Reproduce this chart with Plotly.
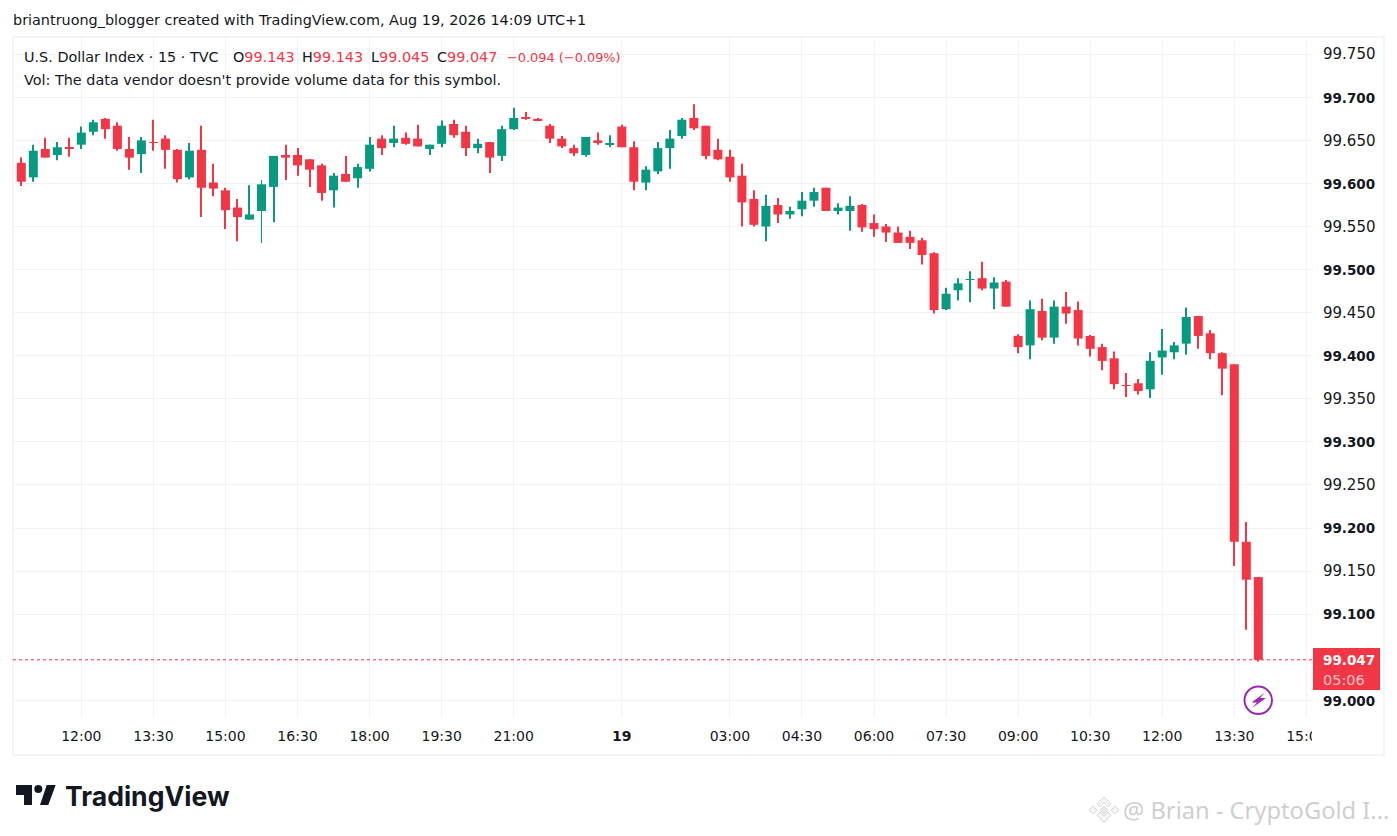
import plotly.graph_objects as go

# 15 min bars
opens = [99.624, 99.607, 99.640, 99.633, 99.642, 99.645, 99.660, 99.675, 99.667, 99.640,
         99.634, 99.648, 99.652, 99.639, 99.607, 99.639, 99.601, 99.592, 99.572, 99.558,
         99.568, 99.596, 99.633, 99.633, 99.628, 99.621, 99.592, 99.611, 99.606, 99.617,
         99.652, 99.647, 99.653, 99.652, 99.640, 99.646, 99.669, 99.660, 99.641, 99.648,
         99.632, 99.663, 99.676, 99.675, 99.667, 99.652, 99.641, 99.633, 99.650, 99.645,
         99.666, 99.642, 99.601, 99.614, 99.641, 99.655, 99.676, 99.667, 99.639, 99.631,
         99.609, 99.582, 99.550, 99.575, 99.564, 99.570, 99.580, 99.595, 99.568, 99.568,
         99.575, 99.554, 99.550, 99.543, 99.538, 99.534, 99.519, 99.454, 99.476, 99.488,
         99.490, 99.478, 99.486, 99.423, 99.412, 99.452, 99.421, 99.457, 99.453, 99.423,
         99.410, 99.397, 99.366, 99.368, 99.361, 99.398, 99.404, 99.414, 99.446, 99.426,
         99.403, 99.390, 99.184, 99.143]
highs = [99.630, 99.645, 99.653, 99.648, 99.653, 99.666, 99.674, 99.676, 99.671, 99.654,
         99.654, 99.674, 99.656, 99.640, 99.647, 99.667, 99.623, 99.595, 99.582, 99.598,
         99.604, 99.632, 99.645, 99.641, 99.628, 99.623, 99.612, 99.632, 99.623, 99.654,
         99.656, 99.667, 99.659, 99.668, 99.645, 99.673, 99.674, 99.667, 99.652, 99.648,
         99.667, 99.688, 99.683, 99.676, 99.669, 99.655, 99.645, 99.654, 99.659, 99.656,
         99.668, 99.649, 99.620, 99.648, 99.662, 99.676, 99.692, 99.667, 99.652, 99.639,
         99.623, 99.592, 99.587, 99.583, 99.573, 99.590, 99.595, 99.595, 99.577, 99.585,
         99.576, 99.564, 99.553, 99.550, 99.545, 99.537, 99.520, 99.479, 99.490, 99.498,
         99.509, 99.491, 99.488, 99.425, 99.464, 99.466, 99.464, 99.474, 99.463, 99.424,
         99.414, 99.405, 99.380, 99.373, 99.404, 99.431, 99.416, 99.456, 99.446, 99.430,
         99.404, 99.390, 99.207, 99.143]
lows = [99.597, 99.602, 99.630, 99.627, 99.631, 99.640, 99.656, 99.652, 99.638, 99.616,
        99.612, 99.638, 99.617, 99.601, 99.605, 99.561, 99.585, 99.547, 99.533, 99.558,
        99.531, 99.555, 99.604, 99.609, 99.596, 99.580, 99.572, 99.602, 99.595, 99.614,
        99.633, 99.642, 99.645, 99.643, 99.633, 99.642, 99.653, 99.632, 99.635, 99.612,
        99.626, 99.662, 99.674, 99.673, 99.647, 99.641, 99.632, 99.631, 99.645, 99.642,
        99.642, 99.592, 99.592, 99.611, 99.617, 99.652, 99.662, 99.628, 99.627, 99.602,
        99.550, 99.550, 99.533, 99.554, 99.559, 99.562, 99.573, 99.568, 99.564, 99.545,
        99.544, 99.538, 99.532, 99.531, 99.524, 99.506, 99.449, 99.453, 99.464, 99.462,
        99.476, 99.454, 99.457, 99.403, 99.396, 99.418, 99.414, 99.437, 99.412, 99.399,
        99.383, 99.361, 99.352, 99.355, 99.351, 99.378, 99.396, 99.401, 99.408, 99.396,
        99.354, 99.156, 99.082, 99.045]
closes = [99.602, 99.638, 99.630, 99.642, 99.641, 99.659, 99.671, 99.663, 99.640, 99.630,
          99.650, 99.647, 99.639, 99.605, 99.638, 99.595, 99.594, 99.569, 99.561, 99.564,
          99.599, 99.632, 99.630, 99.621, 99.616, 99.589, 99.609, 99.602, 99.619, 99.645,
          99.641, 99.652, 99.646, 99.643, 99.645, 99.667, 99.656, 99.641, 99.646, 99.630,
          99.663, 99.676, 99.675, 99.673, 99.652, 99.643, 99.635, 99.654, 99.647, 99.646,
          99.642, 99.602, 99.616, 99.641, 99.652, 99.674, 99.664, 99.632, 99.628, 99.607,
          99.578, 99.552, 99.574, 99.564, 99.568, 99.580, 99.590, 99.568, 99.572, 99.574,
          99.549, 99.547, 99.543, 99.531, 99.531, 99.517, 99.453, 99.472, 99.484, 99.489,
          99.478, 99.485, 99.457, 99.410, 99.454, 99.421, 99.457, 99.449, 99.420, 99.408,
          99.394, 99.367, 99.365, 99.359, 99.394, 99.406, 99.412, 99.445, 99.423, 99.403,
          99.385, 99.184, 99.140, 99.047]

time_ticks = [5, 11, 17, 23, 29, 35, 41, 50, 59, 65, 71, 77, 83, 89, 95, 101, 107]
time_labels = ["12:00", "13:30", "15:00", "16:30", "18:00", "19:30", "21:00", "<b>19</b>", "03:00",
               "04:30", "06:00", "07:30", "09:00", "10:30", "12:00", "13:30", "15:00"]
price_ticks = [99.75, 99.70, 99.65, 99.60, 99.55, 99.50, 99.45, 99.40, 99.35, 99.30, 99.25,
               99.20, 99.15, 99.10, 99.00]
price_texts = ["99.750", "99.700", "99.650", "99.600", "99.550", "99.500", "99.450", "99.400",
               "99.350", "99.300", "99.250", "99.200", "99.150", "99.100", "99.000"]
bold_prices = ["99.700", "99.600", "99.500", "99.400", "99.300", "99.200", "99.100", "99.000"]

RED = "#F23645"
GREEN = "#089981"
INK = "#131722"
GRID = "#F2F3F5"
FONT = "DejaVu Sans"

W, H = 1397, 836
LEFT, RIGHT, TOP, BOTTOM = 13, 1312, 37, 717


def px(x):
    return (x - LEFT) / (RIGHT - LEFT)


def py(y):
    return (BOTTOM - y) / (BOTTOM - TOP)


def bold(text):
    return f"<span style='font-size:13.5px'><b>{text}</b></span>"


def label(x, y, text, size=14.4, color=INK, family=FONT, anchor="left"):
    return dict(xref="paper", yref="paper", x=px(x), y=py(y), text=text, showarrow=False,
                xanchor=anchor, yanchor="middle", align="left", borderpad=0, borderwidth=0,
                font=dict(family=family, size=size, color=color))


def box(x0, y0, x1, y1, **kw):
    return dict(type="rect", xref="paper", yref="paper", x0=px(x0), y0=py(y0), x1=px(x1), y1=py(y1), **kw)


def path(points, **kw):
    d = "M" + " L".join(f"{px(a):.5f},{py(b):.5f}" for a, b in points) + " Z"
    return dict(type="path", xref="paper", yref="paper", path=d, **kw)


bars = list(range(len(opens)))
colors = [GREEN if c > o else RED for o, c in zip(opens, closes)]
price_labels = [bold(t) if t in bold_prices else t for t in price_texts]

fig = go.Figure()
fig.add_bar(x=bars, y=[h - l for h, l in zip(highs, lows)], base=lows, width=1 / 12,
            marker=dict(color=colors, line_width=0), hoverinfo="skip")
fig.add_bar(x=bars, y=[abs(c - o) for o, c in zip(opens, closes)], base=[min(o, c) for o, c in zip(opens, closes)],
            width=0.75, marker=dict(color=colors, line_width=0), hoverinfo="skip")

annotations = [
    label(13, 20, "briantruong_blogger created with TradingView.com, Aug 19, 2026 14:09 UTC+1"),
    label(24, 57, "U.S. Dollar Index · 15 · TVC"),
    label(233, 57, f"O<span style='color:{RED}'>99.143</span>", 14.4),
    label(302, 57, f"H<span style='color:{RED}'>99.143</span>", 14.4),
    label(371, 57, f"L<span style='color:{RED}'>99.045</span>", 14.4),
    label(437, 57, f"C<span style='color:{RED}'>99.047</span>", 14.4),
    label(507, 57, "−0.094 (−0.09%)", 12.9, RED),
    label(24, 79.5, "Vol: The data vendor doesn't provide volume data for this symbol."),
    label(1323, 660, bold("99.047"), 14.5, "#FFFFFF"),
    label(1323, 680, "05:06", 14.5, "#FBC3C8"),
    label(65, 796, "<b>TradingView</b>", 26.6, "#131722", "Inter"),
    label(1123, 810, "@ Brian - CryptoGold I...", 23.7, "#CFCFCF", "Noto Sans"),
]

shapes = [
    box(13, 37, 1384, 755, line=dict(color="#F0F1F3", width=1.5), fillcolor="rgba(0,0,0,0)", layer="below"),
    dict(type="line", xref="paper", yref="y", x0=0, x1=1, y0=closes[-1], y1=closes[-1],
         line=dict(color=RED, width=1, dash="dot"), layer="above"),
    # clips the last time label at the end of the time scale
    box(1312, 722, 1335, 750, line_width=0, fillcolor="#FFFFFF", layer="above"),
    # last price tag
    box(1313, 648, 1380, 690, line_width=0, fillcolor=RED, layer="above"),
    # flash icon
    dict(type="circle", xref="paper", yref="paper", x0=px(1244.5), x1=px(1272), y0=py(686.5), y1=py(714),
         line=dict(color="#9C27B0", width=2), fillcolor="rgba(255,255,255,0)", layer="above"),
    path([(1265, 692.5), (1251.5, 702.5), (1257, 702.5), (1252, 708), (1266, 698), (1260, 698)],
         line_width=0, fillcolor="#9C27B0", layer="above"),
    # TradingView mark
    path([(16, 785), (32, 785), (32, 805), (24, 805), (24, 795), (16, 795)], line_width=0, fillcolor="#131722"),
    dict(type="circle", xref="paper", yref="paper", x0=px(34.3), x1=px(42.3), y0=py(785), y1=py(793),
         line_width=0, fillcolor="#131722"),
    path([(46.7, 785), (55.7, 785), (48.3, 805), (40, 805)], line_width=0, fillcolor="#131722"),
    # watermark mark
    path([(1104, 797), (1111, 804), (1108, 807), (1104, 803), (1100, 807), (1097, 804)],
         line=dict(color="#D8D8D8", width=1), fillcolor="#F4F4F4"),
    path([(1093, 806), (1097, 810), (1093, 814), (1089, 810)], line=dict(color="#D8D8D8", width=1), fillcolor="#F4F4F4"),
    path([(1115, 806), (1119, 810), (1115, 814), (1111, 810)], line=dict(color="#D8D8D8", width=1), fillcolor="#F4F4F4"),
    path([(1104, 806), (1108, 810), (1104, 814), (1100, 810)], line=dict(color="#D8D8D8", width=1), fillcolor="#E8E8E8"),
    path([(1097, 815), (1100, 812), (1104, 816), (1108, 812), (1111, 815), (1104, 823)],
         line=dict(color="#D8D8D8", width=1), fillcolor="#F4F4F4"),
]

fig.update_layout(
    width=W, height=H,
    margin=dict(l=LEFT, r=W - RIGHT, t=TOP, b=H - BOTTOM, autoexpand=False),
    paper_bgcolor="#FFFFFF", plot_bgcolor="#FFFFFF",
    showlegend=False, barmode="overlay",
    annotations=annotations, shapes=shapes,
    xaxis=dict(range=[-0.691, 107.47], tickmode="array", tickvals=time_ticks, ticktext=time_labels,
               showgrid=True, gridcolor=GRID, gridwidth=1, zeroline=False, showline=False,
               ticks="outside", ticklen=6, tickcolor="rgba(0,0,0,0)",
               tickfont=dict(family=FONT, size=14, color=INK), tickangle=0),
    yaxis=dict(side="right", range=[98.9806, 99.77], tickmode="array", tickvals=price_ticks, ticktext=price_labels,
               showgrid=True, gridcolor=GRID, gridwidth=1, zeroline=False, showline=False,
               ticks="outside", ticklen=7, tickcolor="rgba(0,0,0,0)",
               tickfont=dict(family=FONT, size=15, color=INK)),
)

fig.write_html("out.html", config={"displayModeBar": False},
               post_script="document.body.style.margin='0';document.body.style.overflow='hidden';")
